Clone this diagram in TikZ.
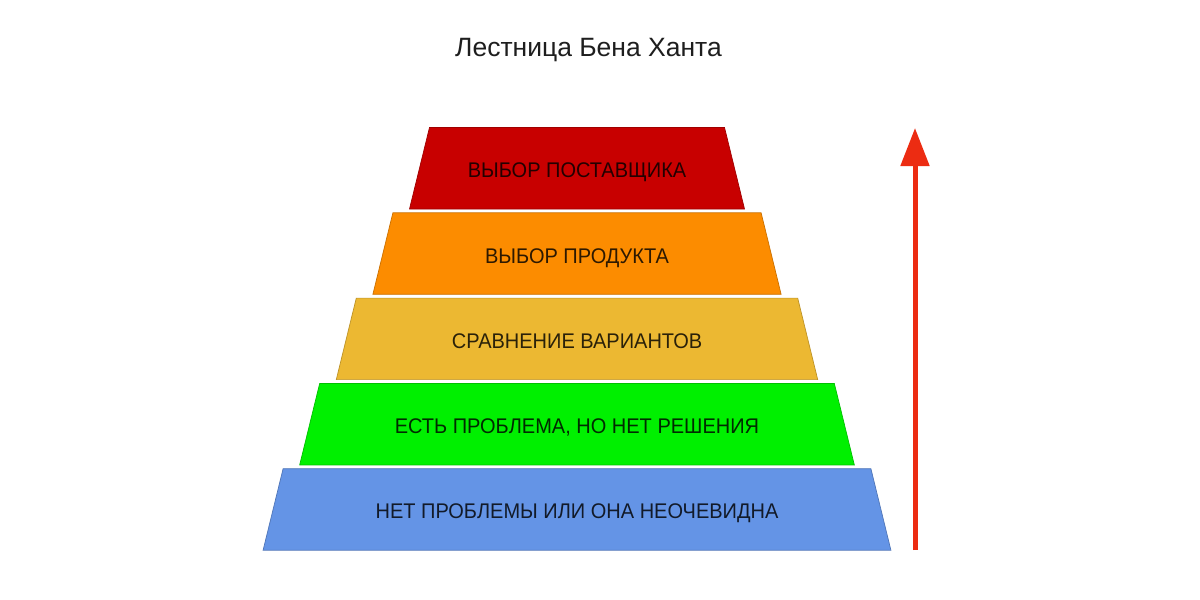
\documentclass[tikz,border=0pt]{standalone}
\usepackage{fontspec}
\setmainfont{Liberation Sans}
\usetikzlibrary{arrows.meta}
\definecolor{cRed}{RGB}{200,0,0}
\definecolor{cOrange}{RGB}{252,140,0}
\definecolor{cYellow}{RGB}{236,184,50}
\definecolor{cGreen}{RGB}{0,240,0}
\definecolor{cBlue}{RGB}{100,148,230}
\definecolor{cArrow}{RGB}{236,44,18}
\definecolor{cTitle}{RGB}{30,30,30}
\tikzset{
  stepshape/.style={line width=0.7pt, line join=miter},
  steplabel/.style={font=\fontsize{20}{24}\selectfont, text=black, text opacity=0.82, anchor=base, inner sep=0pt, yscale=1.06},
  titlelabel/.style={font=\fontsize{26.5}{30}\selectfont, text=cTitle, anchor=base, inner sep=0pt},
}
\begin{document}
\begin{tikzpicture}[x=1pt,y=-1pt]
\useasboundingbox[fill=white] (0,0) rectangle (1200,600);
\node[titlelabel] (title) at (588.5,56) {Лестница Бена Ханта};
\foreach \i/\col/\txt/\nm in {0/cRed/ВЫБОР ПОСТАВЩИКА/s0,1/cOrange/ВЫБОР ПРОДУКТА/s1,2/cYellow/СРАВНЕНИЕ ВАРИАНТОВ/s2,3/cGreen/{ЕСТЬ ПРОБЛЕМА, НО НЕТ РЕШЕНИЯ}/s3,4/cBlue/НЕТ ПРОБЛЕМЫ ИЛИ ОНА НЕОЧЕВИДНА/s4}{
  \pgfmathsetmacro{\yt}{127.5+85.3*\i}
  \pgfmathsetmacro{\yb}{\yt+81.5}
  \pgfmathsetmacro{\xtl}{577-147.5-36.6*\i}
  \pgfmathsetmacro{\xtr}{577+147.5+36.6*\i}
  \pgfmathsetmacro{\xbl}{\xtl-20}
  \pgfmathsetmacro{\xbr}{\xtr+20}
  \pgfmathsetmacro{\ym}{(\yt+\yb)/2+9.5}
  \draw[stepshape, fill=\col, draw=\col!80!black]
     (\xtl,\yt) -- (\xtr,\yt) -- (\xbr,\yb) -- (\xbl,\yb) -- cycle;
  \node[steplabel] (\nm) at (577,\ym) {\txt};
}
\coordinate (abot) at (915,550);
\coordinate (atop) at (915,128);
\draw[cArrow, line width=5pt, -{Triangle[length=38pt,width=28pt]}] (abot) -- (atop);
\end{tikzpicture}
\end{document}
